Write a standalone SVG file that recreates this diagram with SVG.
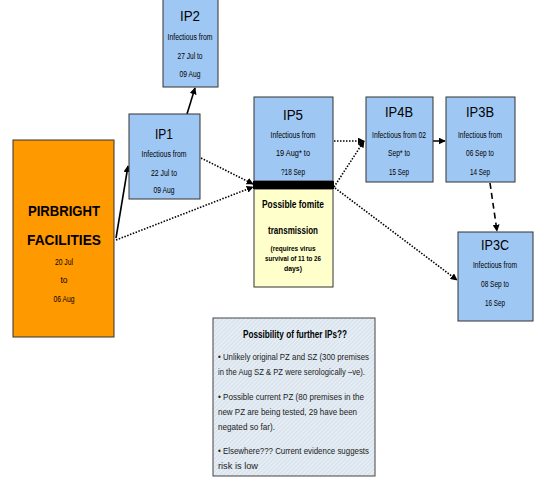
<svg xmlns="http://www.w3.org/2000/svg" width="536" height="480" viewBox="0 0 536 480">
<defs>
<marker id="ah" viewBox="0 0 10 10" refX="9" refY="5" markerWidth="7" markerHeight="7" orient="auto" markerUnits="userSpaceOnUse"><path d="M0,0 L10,5 L0,10 z" fill="#000"/></marker>
<pattern id="hatch" width="3" height="3" patternUnits="userSpaceOnUse" patternTransform="rotate(45)"><rect width="3" height="3" fill="#d9e4ee"/><line x1="0" y1="0" x2="0" y2="3" stroke="#ffffff" stroke-width="1"/></pattern>
</defs>
<style>
.ip{fill:#9ec7f3;stroke:#333;stroke-width:1}
.t{font-family:"Liberation Sans",Arial,sans-serif;text-anchor:middle;fill:#000}
.h{font-size:15px}
.s{font-size:8.5px}
.n{font-family:"Liberation Sans",Arial,sans-serif;font-size:9.5px;fill:#222}
.solid{stroke:#000;stroke-width:1.6;fill:none;marker-end:url(#ah)}
.dot{stroke:#000;stroke-width:1.6;fill:none;stroke-dasharray:1.5 1.5;marker-end:url(#ah)}
.dash{stroke:#000;stroke-width:1.6;fill:none;stroke-dasharray:6 4;marker-end:url(#ah)}
</style>
<rect width="536" height="480" fill="#fff"/>
<g id="connectors">
<line class="solid" x1="116" y1="238" x2="128" y2="166"/>
<line class="solid" x1="187" y1="114" x2="195" y2="88"/>
<line class="dot" x1="201" y1="158" x2="253" y2="184"/>
<line class="dot" x1="116" y1="240" x2="253" y2="187"/>
<line class="dot" x1="334" y1="141" x2="364" y2="141"/>
<line class="dot" x1="334" y1="187" x2="364" y2="141"/>
<line class="dot" x1="335" y1="188" x2="457" y2="280"/>
<line class="dash" x1="433" y1="141" x2="445" y2="141"/>
<line class="dash" x1="490" y1="183" x2="497" y2="231"/>
</g>
<g id="pirbright">
<rect x="13" y="140" width="101" height="197" fill="#ff9900" stroke="#333" stroke-width="1"/>
<text class="t" x="64" y="216" font-size="15" font-weight="bold" textLength="72" lengthAdjust="spacingAndGlyphs">PIRBRIGHT</text>
<text class="t" x="64" y="245" font-size="15" font-weight="bold" textLength="74" lengthAdjust="spacingAndGlyphs">FACILITIES</text>
<text class="t s" x="64" y="265" textLength="18" lengthAdjust="spacingAndGlyphs">20 Jul</text>
<text class="t s" x="64" y="283">to</text>
<text class="t s" x="64" y="302" textLength="21" lengthAdjust="spacingAndGlyphs">06 Aug</text>
</g>
<g id="IP2">
<rect class="ip" x="163" y="-1" width="55" height="88"/>
<text class="t h" x="190" y="21" textLength="20" lengthAdjust="spacingAndGlyphs">IP2</text>
<text class="t s" x="190" y="40" textLength="45" lengthAdjust="spacingAndGlyphs">Infectious from</text>
<text class="t s" x="190" y="59" textLength="25" lengthAdjust="spacingAndGlyphs">27 Jul to</text>
<text class="t s" x="190" y="77" textLength="21" lengthAdjust="spacingAndGlyphs">09 Aug</text>
</g>
<g id="IP1">
<rect class="ip" x="129" y="114" width="71" height="85"/>
<text class="t h" x="164" y="139" textLength="18" lengthAdjust="spacingAndGlyphs">IP1</text>
<text class="t s" x="164" y="157" textLength="45" lengthAdjust="spacingAndGlyphs">Infectious from</text>
<text class="t s" x="164" y="176" textLength="26" lengthAdjust="spacingAndGlyphs">22 Jul to</text>
<text class="t s" x="164" y="193" textLength="21" lengthAdjust="spacingAndGlyphs">09 Aug</text>
</g>
<g id="IP5">
<rect class="ip" x="254" y="97" width="79" height="84"/>
<text class="t h" x="293" y="120" textLength="20" lengthAdjust="spacingAndGlyphs">IP5</text>
<text class="t s" x="293" y="138" textLength="45" lengthAdjust="spacingAndGlyphs">Infectious from</text>
<text class="t s" x="293" y="156" textLength="34" lengthAdjust="spacingAndGlyphs">19 Aug* to</text>
<text class="t s" x="293" y="175" textLength="24" lengthAdjust="spacingAndGlyphs">?18 Sep</text>
</g>
<g id="fomite">
<rect x="254" y="189" width="79" height="98" fill="#ffffcc" stroke="#333" stroke-width="1"/>
<rect x="253" y="181" width="81" height="8" fill="#000"/>
<text class="t" x="293" y="208" font-size="10.5" font-weight="bold" textLength="62" lengthAdjust="spacingAndGlyphs">Possible fomite</text>
<text class="t" x="293" y="234" font-size="10.5" font-weight="bold" textLength="50" lengthAdjust="spacingAndGlyphs">transmission</text>
<text class="t" x="293" y="251" font-size="8" font-weight="bold" textLength="45" lengthAdjust="spacingAndGlyphs">(requires virus</text>
<text class="t" x="293" y="261" font-size="8" font-weight="bold" textLength="56" lengthAdjust="spacingAndGlyphs">survival of 11 to 26</text>
<text class="t" x="293" y="271" font-size="8" font-weight="bold" textLength="18" lengthAdjust="spacingAndGlyphs">days)</text>
</g>
<g id="IP4B">
<rect class="ip" x="366" y="97" width="67" height="85"/>
<text class="t h" x="399" y="117" textLength="28" lengthAdjust="spacingAndGlyphs">IP4B</text>
<text class="t s" x="399" y="138" textLength="54" lengthAdjust="spacingAndGlyphs">Infectious from 02</text>
<text class="t s" x="399" y="156" textLength="22" lengthAdjust="spacingAndGlyphs">Sep* to</text>
<text class="t s" x="399" y="175" textLength="20" lengthAdjust="spacingAndGlyphs">15 Sep</text>
</g>
<g id="IP3B">
<rect class="ip" x="446" y="97" width="69" height="85"/>
<text class="t h" x="480" y="117" textLength="28" lengthAdjust="spacingAndGlyphs">IP3B</text>
<text class="t s" x="480" y="138" textLength="44" lengthAdjust="spacingAndGlyphs">Infectious from</text>
<text class="t s" x="480" y="156" textLength="28" lengthAdjust="spacingAndGlyphs">06 Sep to</text>
<text class="t s" x="480" y="175" textLength="20" lengthAdjust="spacingAndGlyphs">14 Sep</text>
</g>
<g id="IP3C">
<rect class="ip" x="458" y="232" width="75" height="89"/>
<text class="t h" x="495" y="250" textLength="28" lengthAdjust="spacingAndGlyphs">IP3C</text>
<text class="t s" x="495" y="268" textLength="44" lengthAdjust="spacingAndGlyphs">Infectious from</text>
<text class="t s" x="495" y="287" textLength="28" lengthAdjust="spacingAndGlyphs">08 Sep to</text>
<text class="t s" x="495" y="306" textLength="20" lengthAdjust="spacingAndGlyphs">16 Sep</text>
</g>
<g id="notes">
<rect x="213" y="318" width="162" height="158" fill="url(#hatch)" stroke="#444" stroke-width="1"/>
<text class="t" x="295" y="338" font-size="10" font-weight="bold" textLength="104" lengthAdjust="spacingAndGlyphs">Possibility of further IPs??</text>
<text class="n" x="218" y="360" textLength="151" lengthAdjust="spacingAndGlyphs">• Unlikely original PZ and SZ (300 premises</text>
<text class="n" x="218" y="375" textLength="147" lengthAdjust="spacingAndGlyphs">in the Aug SZ &amp; PZ were serologically –ve).</text>
<text class="n" x="218" y="400" textLength="146" lengthAdjust="spacingAndGlyphs">• Possible current PZ (80 premises in the</text>
<text class="n" x="218" y="415" textLength="139" lengthAdjust="spacingAndGlyphs">new PZ are being tested, 29 have been</text>
<text class="n" x="218" y="430" textLength="57" lengthAdjust="spacingAndGlyphs">negated so far).</text>
<text class="n" x="218" y="454" textLength="151" lengthAdjust="spacingAndGlyphs">• Elsewhere??? Current evidence suggests</text>
<text class="n" x="218" y="469" textLength="40" lengthAdjust="spacingAndGlyphs">risk is low</text>
</g>
</svg>
